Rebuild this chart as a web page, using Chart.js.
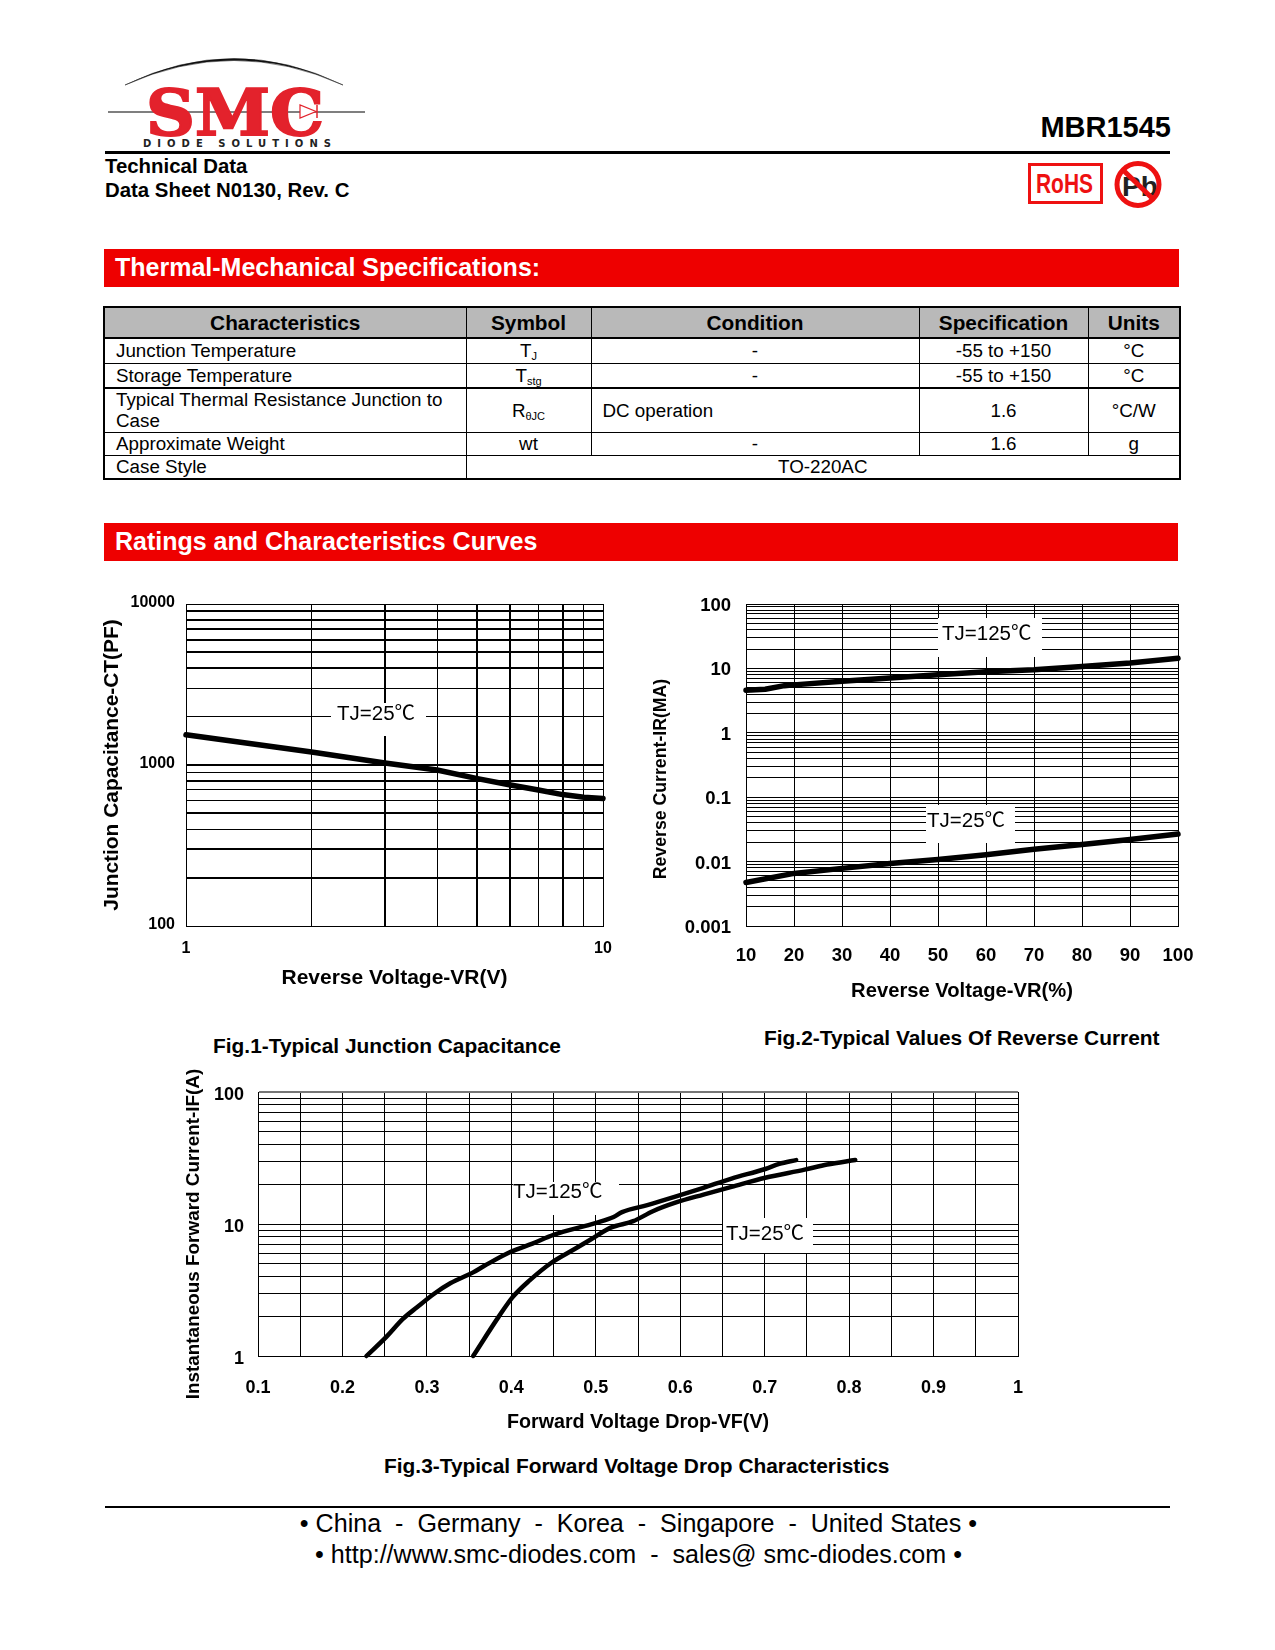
<!DOCTYPE html>
<html>
<head>
<meta charset="utf-8">
<title>MBR1545</title>
<script src="https://cdn.jsdelivr.net/npm/chart.js@4/dist/chart.umd.min.js"></script>
<style>
  html, body { margin: 0; padding: 0; background: #fff; }
  body { position: relative; width: 1275px; height: 1650px; overflow: hidden; font-family: "Liberation Sans", Arial, sans-serif; color: #000; }
  .abs { position: absolute; white-space: nowrap; }
  .band { position: absolute; background: #ee0000; color: #fff; font-size: 25px; font-weight: bold; line-height: 37px; padding-left: 11px; box-sizing: border-box; }
  .cap { position: absolute; white-space: nowrap; font-size: 20.9px; font-weight: bold; line-height: 24px; }
  canvas { position: absolute; }
  table { position: absolute; left: 103px; top: 306px; width: 1078px; height: 174px; border-collapse: collapse; table-layout: fixed; border: 2px solid #000; font-size: 18.8px; }
  th, td { border: 1px solid #000; padding: 0; text-align: center; overflow: hidden; line-height: 21px; }
  th { background: #b9b9b9; font-size: 20.8px; border-bottom: 2px solid #000; }
  td.l { text-align: left; padding-left: 11px; }
  tr.sep td { border-bottom: 2px solid #000; }
  sub { font-size: 11px; line-height: 0; vertical-align: -3px; }
</style>
</head>
<body>

<svg class="abs" style="left:100px;top:50px" width="280" height="110" viewBox="100 50 280 110">
  <path d="M125 85 Q234 32 343 85 Q234 36 125 85 Z" fill="#111" stroke="#111" stroke-width="0.5"/>
  <line x1="108" y1="112" x2="365" y2="112" stroke="#555" stroke-width="1.5"/>
  <text x="146" y="135" font-family="DejaVu Serif" font-weight="bold" font-size="64" fill="#e3222c" stroke="#e3222c" stroke-width="2" textLength="178" lengthAdjust="spacingAndGlyphs">SMC</text>
  <polygon points="300,105 300,118 316,111.5" fill="#fff" stroke="#e3222c" stroke-width="1.2"/>
  <line x1="317" y1="105" x2="317" y2="118" stroke="#e3222c" stroke-width="1.5"/>
  <text x="143" y="147" font-family="DejaVu Sans" font-weight="bold" font-size="10" fill="#222" textLength="188">DIODE SOLUTIONS</text>
</svg>

<div class="abs" style="right:104px;top:110px;font-size:29px;font-weight:bold;line-height:34px">MBR1545</div>
<div class="abs" style="left:105px;top:151px;width:1065px;height:3px;background:#000"></div>
<div class="abs" style="left:105px;top:154px;font-size:20.4px;font-weight:bold;line-height:24px">Technical Data<br>Data Sheet N0130, Rev. C</div>

<svg class="abs" style="left:1010px;top:150px" width="170" height="70" viewBox="1010 150 170 70">
  <rect x="1029.5" y="164.5" width="72" height="38" fill="#fff" stroke="#ee1111" stroke-width="3"/>
  <text x="1036" y="193" font-family="Liberation Sans" font-weight="bold" font-size="28" fill="#ee1111" textLength="57" lengthAdjust="spacingAndGlyphs">RoHS</text>
  <text x="1122" y="196" font-family="Liberation Sans" font-weight="bold" font-size="28" fill="#222">Pb</text>
  <circle cx="1138" cy="184.5" r="21" fill="none" stroke="#ee1111" stroke-width="5"/>
  <line x1="1122" y1="169" x2="1154" y2="200" stroke="#ee1111" stroke-width="5"/>
</svg>

<div class="band" style="left:104px;top:249px;width:1075px;height:38px;">Thermal-Mechanical Specifications:</div>

<table>
  <colgroup><col style="width:362px"><col style="width:125px"><col style="width:328px"><col style="width:169px"><col></colgroup>
  <tr style="height:31px"><th>Characteristics</th><th>Symbol</th><th>Condition</th><th>Specification</th><th>Units</th></tr>
  <tr style="height:25px"><td class="l">Junction Temperature</td><td>T<sub>J</sub></td><td>-</td><td>-55 to +150</td><td>°C</td></tr>
  <tr class="sep" style="height:25px"><td class="l">Storage Temperature</td><td>T<sub>stg</sub></td><td>-</td><td>-55 to +150</td><td>°C</td></tr>
  <tr style="height:44px"><td class="l">Typical Thermal Resistance Junction to Case</td><td>R<sub>θJC</sub></td><td class="l">DC operation</td><td>1.6</td><td>°C/W</td></tr>
  <tr style="height:23px"><td class="l">Approximate Weight</td><td>wt</td><td>-</td><td>1.6</td><td>g</td></tr>
  <tr style="height:24px"><td class="l">Case Style</td><td colspan="4">TO-220AC</td></tr>
</table>

<div class="band" style="left:104px;top:523px;width:1074px;height:38px;">Ratings and Characteristics Curves</div>

<canvas id="fig1" style="left:90px;top:570px"></canvas>
<canvas id="fig2" style="left:640px;top:570px"></canvas>
<canvas id="fig3" style="left:170px;top:1060px"></canvas>

<div class="cap" style="left:213px;top:1034px">Fig.1-Typical Junction Capacitance</div>
<div class="cap" style="left:764px;top:1026px">Fig.2-Typical Values Of Reverse Current</div>
<div class="cap" style="left:384px;top:1454px">Fig.3-Typical Forward Voltage Drop Characteristics</div>

<div class="abs" style="left:105px;top:1506px;width:1065px;height:2px;background:#000"></div>
<div class="abs" style="left:106px;top:1508px;width:1065px;text-align:center;font-size:25.1px;line-height:31px;white-space:pre">• China  -  Germany  -  Korea  -  Singapore  -  United States •
• http://www.smc-diodes.com  -  sales@ smc-diodes.com •</div>

<script>
// Fig.1 - junction capacitance
const fig1Vr = [1, 2, 3, 4, 5, 6, 7, 8, 9, 10];
const fig1Ct = [1541, 1203, 1029, 931, 823, 752, 700, 655, 631, 619];
const fig1XTicks = [1, 2, 3, 4, 5, 6, 7, 8, 9, 10];
const fig1YTicks = [100, 200, 300, 400, 500, 600, 700, 800, 900, 1000, 2000, 3000, 4000, 5000, 6000, 7000, 8000, 9000, 10000];
const fig1XLabels = [1, 10];
const fig1YLabels = [100, 1000, 10000];

// Fig.2 - reverse current
const fig2Vr125 = [10, 14, 18, 20, 30, 40, 50, 60, 70, 80, 90, 100];
const fig2Ir125 = [4.59, 4.75, 5.4, 5.55, 6.3, 7.1, 8.0, 8.85, 9.5, 10.7, 12.1, 14.4];
const fig2Vr25 = [10, 20, 30, 40, 50, 60, 70, 80, 90, 100];
const fig2Ir25 = [0.00474, 0.00656, 0.00785, 0.00938, 0.0108, 0.0128, 0.0155, 0.0185, 0.0221, 0.0268];
const fig2XTicks = [10, 20, 30, 40, 50, 60, 70, 80, 90, 100];
const fig2YTicks = [
  0.001, 0.002, 0.003, 0.004, 0.005, 0.006, 0.007, 0.008, 0.009,
  0.01, 0.02, 0.03, 0.04, 0.05, 0.06, 0.07, 0.08, 0.09,
  0.1, 0.2, 0.3, 0.4, 0.5, 0.6, 0.7, 0.8, 0.9,
  1, 2, 3, 4, 5, 6, 7, 8, 9,
  10, 20, 30, 40, 50, 60, 70, 80, 90, 100
];
const fig2YLabels = [0.001, 0.01, 0.1, 1, 10, 100];

// Fig.3 - forward voltage drop
const fig3Vf125 = [0.2284, 0.2517, 0.2716, 0.2883, 0.3082, 0.3282, 0.3548, 0.3681, 0.3993, 0.4249, 0.4499, 0.5005, 0.5211, 0.5311, 0.561, 0.5942, 0.6275, 0.6608, 0.7007, 0.7173, 0.7373];
const fig3If125 = [1, 1.39, 1.91, 2.34, 2.95, 3.57, 4.3, 4.82, 6.16, 7.1, 8.27, 10.2, 11.3, 12.3, 13.9, 16.1, 18.8, 22.1, 26.1, 28.5, 30.5];
const fig3Vf25 = [0.3548, 0.3847, 0.4013, 0.4213, 0.4479, 0.4745, 0.4945, 0.5177, 0.5443, 0.5676, 0.5942, 0.6275, 0.6608, 0.7007, 0.7473, 0.7739, 0.8073];
const fig3If25 = [1, 1.97, 2.78, 3.72, 5.11, 6.44, 7.66, 9.38, 10.5, 12.5, 14.5, 16.7, 19.1, 22.4, 25.8, 28.2, 30.5];
const fig3XTicks = [0.1, 0.15, 0.2, 0.25, 0.3, 0.35, 0.4, 0.45, 0.5, 0.55, 0.6, 0.65, 0.7, 0.75, 0.8, 0.85, 0.9, 0.95, 1];
const fig3YTicks = [1, 2, 3, 4, 5, 6, 7, 8, 9, 10, 20, 30, 40, 50, 60, 70, 80, 90, 100];
const fig3XLabels = [0.1, 0.2, 0.3, 0.4, 0.5, 0.6, 0.7, 0.8, 0.9, 1];
const fig3YLabels = [1, 10, 100];

const FONT = '"Liberation Sans", Arial, sans-serif';

// white note boxes and the shifted y titles, drawn under the curves
const notesPlugin = {
  id: 'notes',
  beforeDatasetsDraw(chart, args, opts) {
    const ctx = chart.ctx;
    ctx.save();
    (opts.items || []).forEach((n) => {
      ctx.fillStyle = '#fff';
      ctx.fillRect(n.box[0], n.box[1], n.box[2], n.box[3]);
      ctx.fillStyle = '#000';
      ctx.font = `20.5px ${FONT}, "Noto Sans CJK SC"`;
      ctx.textAlign = 'left';
      ctx.textBaseline = 'middle';
      ctx.fillText(n.text, n.x, n.y);
    });
    if (opts.yTitle) {
      ctx.translate(opts.yTitle.x, opts.yTitle.y);
      ctx.rotate(-Math.PI / 2);
      ctx.fillStyle = '#000';
      ctx.font = `bold ${opts.yTitle.size}px ${FONT}`;
      ctx.textAlign = 'center';
      ctx.textBaseline = 'middle';
      ctx.fillText(opts.yTitle.text, 0, 0);
    }
    ctx.restore();
  },
};

function setTicks(values) {
  return (scale) => { scale.ticks = values.map((v) => ({ value: v })); };
}

function buildChart(id, size, cfg) {
  const canvas = document.getElementById(id);
  canvas.style.width = size.w + 'px';
  canvas.style.height = size.h + 'px';
  canvas.width = size.w;
  canvas.height = size.h;
  return new Chart(canvas.getContext('2d'), {
    type: 'line',
    data: { datasets: cfg.datasets },
    plugins: [notesPlugin],
    options: {
      responsive: false,
      animation: false,
      layout: { padding: { top: cfg.padTop, right: cfg.padRight, left: 0, bottom: 0 } },
      plugins: {
        legend: { display: false },
        title: { display: false },
        tooltip: { enabled: false },
        notes: { items: cfg.notes, yTitle: cfg.yTitle },
      },
      scales: {
        x: {
          type: cfg.xType,
          min: cfg.xTicks[0],
          max: cfg.xTicks[cfg.xTicks.length - 1],
          afterBuildTicks: setTicks(cfg.xTicks),
          afterFit: (s) => { s.height = cfg.xHeight; },
          grid: { drawTicks: false, color: '#000', lineWidth: cfg.xGridWidth || 1 },
          border: { display: true, color: '#000', width: 1 },
          ticks: {
            autoSkip: false,
            maxRotation: 0,
            padding: cfg.xTickPad,
            color: '#000',
            font: { family: FONT, weight: 'bold', size: cfg.tickSize },
            callback: (v) => (cfg.xLabels.includes(v) ? String(v) : ''),
          },
          title: {
            display: true,
            text: cfg.xTitle,
            color: '#000',
            font: { family: FONT, weight: 'bold', size: cfg.xTitleSize },
            padding: { top: 0, bottom: cfg.xTitlePad },
          },
        },
        y: {
          type: 'logarithmic',
          min: cfg.yTicks[0],
          max: cfg.yTicks[cfg.yTicks.length - 1],
          afterBuildTicks: setTicks(cfg.yTicks),
          afterFit: (s) => { s.width = cfg.yWidth; },
          grid: { drawTicks: false, color: cfg.yGridColor || '#000', lineWidth: cfg.yGridWidth || 1 },
          border: { display: true, color: '#000', width: 1 },
          ticks: {
            autoSkip: false,
            padding: cfg.yTickPad,
            labelOffset: cfg.yLabelOffset || 0,
            color: '#000',
            font: { family: FONT, weight: 'bold', size: cfg.tickSize },
            callback: (v) => (cfg.yLabels.includes(v) ? String(v) : ''),
          },
        },
      },
    },
  });
}

function series(xs, ys, width, mode) {
  return {
    data: xs.map((x, i) => ({ x, y: ys[i] })),
    borderColor: '#000',
    borderWidth: width,
    pointRadius: 0,
    tension: 0,
    cubicInterpolationMode: mode || 'default',
    borderCapStyle: 'round',
    borderJoinStyle: 'round',
    clip: 4,
  };
}

const fig1HeavyX = [3, 5, 6, 8];
const fig1HeavyY = [200, 300, 500, 800, 1000, 4000, 5000, 6000, 7000, 8000, 9000];

buildChart('fig1', { w: 550, h: 426 }, {
  datasets: [series(fig1Vr, fig1Ct, 5.5)],
  xType: 'logarithmic',
  xTicks: fig1XTicks, yTicks: fig1YTicks, xLabels: fig1XLabels, yLabels: fig1YLabels,
  padTop: 34, padRight: 37, xHeight: 70, yWidth: 96,
  tickSize: 16, xTickPad: 13, yTickPad: 11, yLabelOffset: -1,
  xTitle: 'Reverse Voltage-VR(V)', xTitleSize: 21, xTitlePad: 5,
  xGridWidth: (c) => (fig1HeavyX.includes(c.tick && c.tick.value) ? 2 : 1),
  yGridWidth: (c) => (fig1HeavyY.includes(c.tick && c.tick.value) ? 2 : 1),
  yTitle: { text: 'Junction Capacitance-CT(PF)', x: 22, y: 195, size: 20.9 },
  notes: [{ text: 'TJ=25℃', box: [241, 133, 95, 33], x: 247, y: 144 }],
});

buildChart('fig2', { w: 580, h: 436 }, {
  datasets: [series(fig2Vr125, fig2Ir125, 5.5), series(fig2Vr25, fig2Ir25, 5.5)],
  xType: 'linear',
  xTicks: fig2XTicks, yTicks: fig2YTicks, xLabels: fig2XTicks, yLabels: fig2YLabels,
  padTop: 34, padRight: 42, xHeight: 80, yWidth: 106,
  tickSize: 18.5, xTickPad: 19, yTickPad: 15, yLabelOffset: 2,
  xTitle: 'Reverse Voltage-VR(%)', xTitleSize: 20.2, xTitlePad: 2,
  yTitle: { text: 'Reverse Current-IR(MA)', x: 21, y: 209, size: 17.7 },
  notes: [
    { text: 'TJ=125℃', box: [298, 48, 104, 39], x: 302, y: 64 },
    { text: 'TJ=25℃', box: [286, 235, 89, 38], x: 287, y: 251 },
  ],
});

buildChart('fig3', { w: 880, h: 380 }, {
  datasets: [series(fig3Vf125, fig3If125, 4.5, 'monotone'), series(fig3Vf25, fig3If25, 4.5, 'monotone')],
  xType: 'linear',
  xTicks: fig3XTicks, yTicks: fig3YTicks, xLabels: fig3XLabels, yLabels: fig3YLabels,
  padTop: 32, padRight: 32, xHeight: 84, yWidth: 88,
  tickSize: 18, xTickPad: 21, yTickPad: 14, yLabelOffset: 3,
  xTitle: 'Forward Voltage Drop-VF(V)', xTitleSize: 19.7, xTitlePad: 6,
  yGridColor: (c) => ((c.tick && c.tick.value) === 100 ? '#777' : '#000'),
  yGridWidth: (c) => ((c.tick && c.tick.value) === 100 ? 2 : 1),
  yTitle: { text: 'Instantaneous Forward Current-IF(A)', x: 24, y: 174, size: 18.9 },
  notes: [
    { text: 'TJ=125℃', box: [343, 122, 106, 33], x: 343, y: 132 },
    { text: 'TJ=25℃', box: [553, 158, 90, 35], x: 556, y: 174 },
  ],
});
</script>
</body>
</html>
